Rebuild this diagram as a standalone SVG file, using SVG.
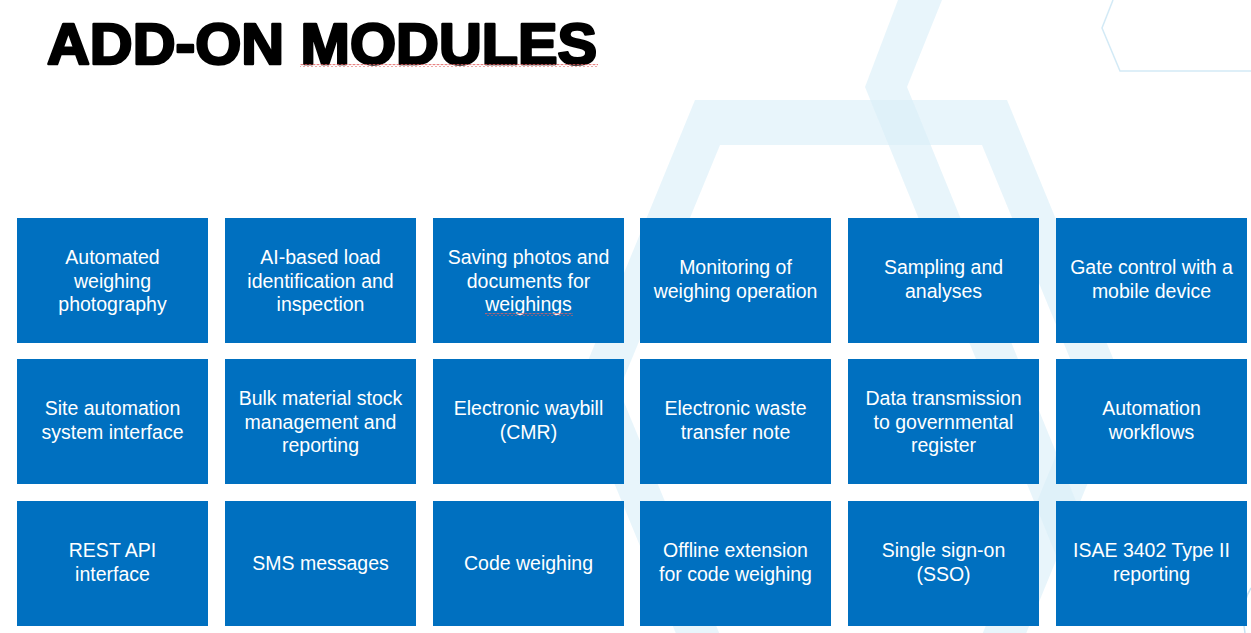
<svg xmlns="http://www.w3.org/2000/svg" width="1251" height="633" viewBox="0 0 1251 633">
<defs>
<pattern id="squig" x="0" y="0" width="4" height="3" patternUnits="userSpaceOnUse">
  <path d="M0,0.5 L2,2 L4,0.5" fill="none" stroke="#E06060" stroke-width="0.9"/>
</pattern>
</defs>
<style>
.bg{fill:#D8EEF9;opacity:0.6}
.box{fill:#0070C0}
.lbl{font-family:"Liberation Sans",Arial,sans-serif;font-size:19.5px;fill:#FFFFFF;text-anchor:middle}
.title{font-family:"Liberation Sans",Arial,sans-serif;font-size:58px;font-weight:bold;fill:#000;stroke:#000;stroke-width:2.6;stroke-linejoin:round}
</style>
<rect width="1251" height="633" fill="#FFFFFF"/>
<g id="background">
  <path class="bg" fill-rule="evenodd" d="M695,100 L1007,100 L1126,390 L1007,680 L695,680 L576,390 Z M720,145 L982,145 L1083,390 L982,635 L720,635 L619,390 Z"/>
  <path class="bg" d="M898,0 L942,0 L907,87 L1100,560 L1058,560 L865,87 Z"/>
  <path d="M1113,0 L1102,28 L1120,71 L1251,71" fill="none" stroke="#D3EAF6" stroke-width="1.5"/>
  <path d="M1251,588 Q1240,605 1245,633" fill="none" stroke="#C5E2F3" stroke-width="1.5"/>
</g>
<g id="title">
  <text class="title" x="47" y="64" textLength="550" lengthAdjust="spacingAndGlyphs">ADD-ON MODULES</text>
  <rect x="300" y="64" width="298" height="3" fill="url(#squig)"/>
</g>
<g id="connectors"></g>
<g id="n1"><rect class="box" x="17" y="218" width="191" height="125"/><text class="lbl" x="112.5" y="264">Automated</text><text class="lbl" x="112.5" y="287.5">weighing</text><text class="lbl" x="112.5" y="311">photography</text></g>
<g id="n2"><rect class="box" x="225" y="218" width="191" height="125"/><text class="lbl" x="320.5" y="264">AI-based load</text><text class="lbl" x="320.5" y="287.5">identification and</text><text class="lbl" x="320.5" y="311">inspection</text></g>
<g id="n3"><rect class="box" x="433" y="218" width="191" height="125"/><text class="lbl" x="528.5" y="264">Saving photos and</text><text class="lbl" x="528.5" y="287.5">documents for</text><text class="lbl" x="528.5" y="311">weighings</text>
  <rect x="485" y="313" width="88" height="3" fill="url(#squig)"/></g>
<g id="n4"><rect class="box" x="640" y="218" width="191" height="125"/><text class="lbl" x="735.5" y="274">Monitoring of</text><text class="lbl" x="735.5" y="297.5">weighing operation</text></g>
<g id="n5"><rect class="box" x="848" y="218" width="191" height="125"/><text class="lbl" x="943.5" y="274">Sampling and</text><text class="lbl" x="943.5" y="297.5">analyses</text></g>
<g id="n6"><rect class="box" x="1056" y="218" width="191" height="125"/><text class="lbl" x="1151.5" y="274">Gate control with a</text><text class="lbl" x="1151.5" y="297.5">mobile device</text></g>
<g id="n7"><rect class="box" x="17" y="359" width="191" height="125"/><text class="lbl" x="112.5" y="415">Site automation</text><text class="lbl" x="112.5" y="438.5">system interface</text></g>
<g id="n8"><rect class="box" x="225" y="359" width="191" height="125"/><text class="lbl" x="320.5" y="405">Bulk material stock</text><text class="lbl" x="320.5" y="428.5">management and</text><text class="lbl" x="320.5" y="452">reporting</text></g>
<g id="n9"><rect class="box" x="433" y="359" width="191" height="125"/><text class="lbl" x="528.5" y="415">Electronic waybill</text><text class="lbl" x="528.5" y="438.5">(CMR)</text></g>
<g id="n10"><rect class="box" x="640" y="359" width="191" height="125"/><text class="lbl" x="735.5" y="415">Electronic waste</text><text class="lbl" x="735.5" y="438.5">transfer note</text></g>
<g id="n11"><rect class="box" x="848" y="359" width="191" height="125"/><text class="lbl" x="943.5" y="405">Data transmission</text><text class="lbl" x="943.5" y="428.5">to governmental</text><text class="lbl" x="943.5" y="452">register</text></g>
<g id="n12"><rect class="box" x="1056" y="359" width="191" height="125"/><text class="lbl" x="1151.5" y="415">Automation</text><text class="lbl" x="1151.5" y="438.5">workflows</text></g>
<g id="n13"><rect class="box" x="17" y="501" width="191" height="125"/><text class="lbl" x="112.5" y="557">REST API</text><text class="lbl" x="112.5" y="580.5">interface</text></g>
<g id="n14"><rect class="box" x="225" y="501" width="191" height="125"/><text class="lbl" x="320.5" y="570">SMS messages</text></g>
<g id="n15"><rect class="box" x="433" y="501" width="191" height="125"/><text class="lbl" x="528.5" y="570">Code weighing</text></g>
<g id="n16"><rect class="box" x="640" y="501" width="191" height="125"/><text class="lbl" x="735.5" y="557">Offline extension</text><text class="lbl" x="735.5" y="580.5">for code weighing</text></g>
<g id="n17"><rect class="box" x="848" y="501" width="191" height="125"/><text class="lbl" x="943.5" y="557">Single sign-on</text><text class="lbl" x="943.5" y="580.5">(SSO)</text></g>
<g id="n18"><rect class="box" x="1056" y="501" width="191" height="125"/><text class="lbl" x="1151.5" y="557">ISAE 3402 Type II</text><text class="lbl" x="1151.5" y="580.5">reporting</text></g>
</svg>
